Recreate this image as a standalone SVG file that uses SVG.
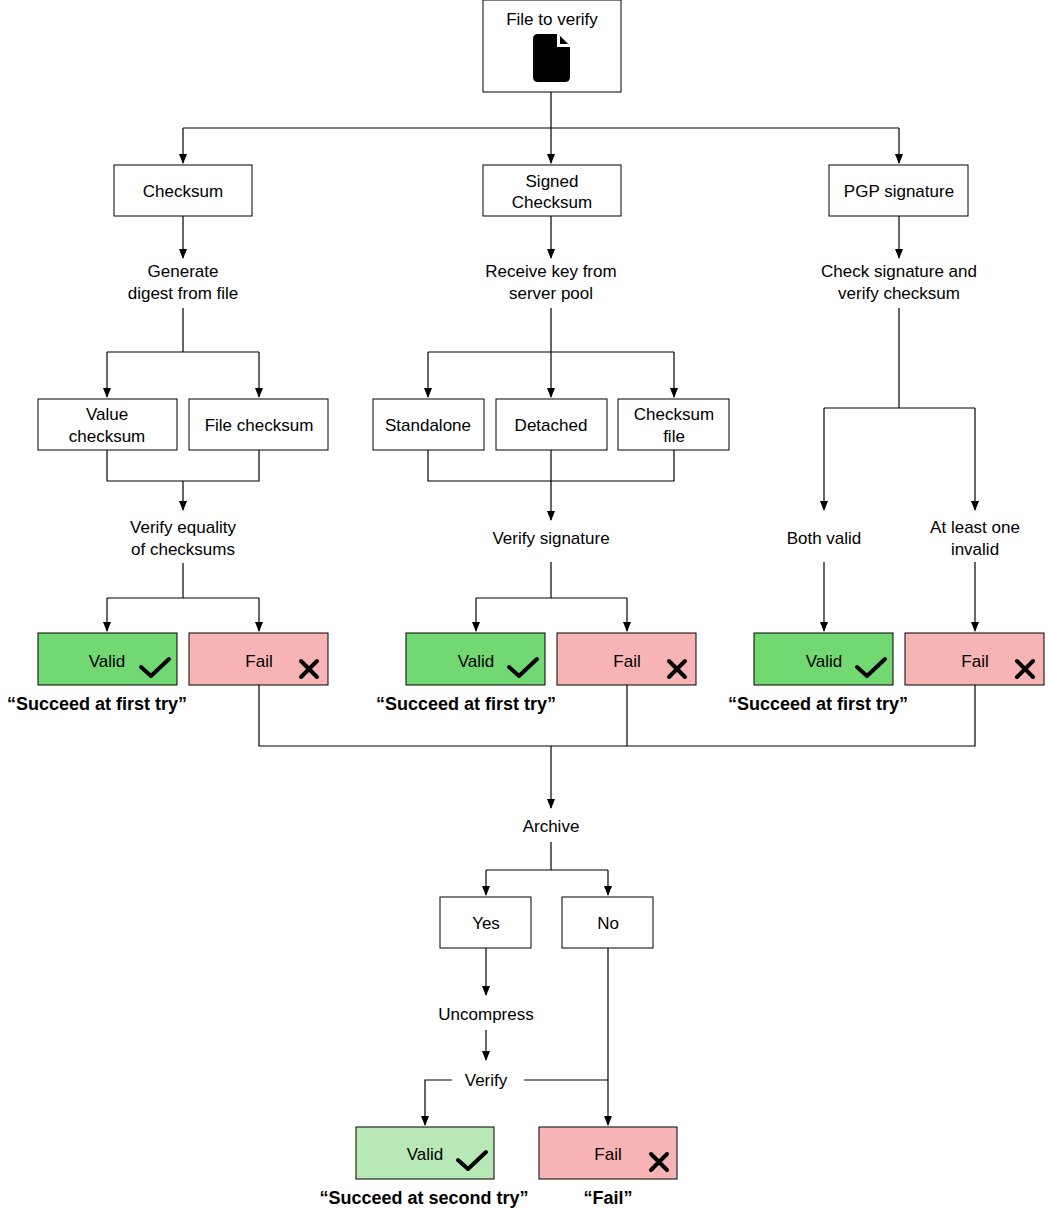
<svg xmlns="http://www.w3.org/2000/svg" xmlns:xlink="http://www.w3.org/1999/xlink" width="1049" height="1208" viewBox="0 0 1049 1208">
<style>
text{font-family:"Liberation Sans",Arial,sans-serif;font-size:17px;fill:#000;text-anchor:middle}
.b{font-weight:bold;font-size:18px}
.box{fill:#fff;stroke:#000;stroke-width:1}
.ok{fill:#72d872;stroke:#000;stroke-width:1}
.ok2{fill:#b8e8b5;stroke:#000;stroke-width:1}
.ko{fill:#f8b4b4;stroke:#000;stroke-width:1}
.c{fill:none;stroke:#000;stroke-width:1.2}
.ic{fill:none;stroke:#000;stroke-width:4;stroke-linecap:round;stroke-linejoin:round}
</style>
<defs>
<marker id="a" markerWidth="10" markerHeight="10" refX="9" refY="5" orient="auto" markerUnits="userSpaceOnUse"><path d="M0,1 L10,5 L0,9 z" fill="#000"/></marker>
<path id="chk" class="ic" d="M0,8 L10,17 L28,0"/>
<path id="x" class="ic" d="M0,0 L16,16 M16,0 L0,16"/>
</defs>
<g id="connectors" class="c">
<path d="M551,92 V128 M183,128 H899"/>
<path d="M183,128 V163" marker-end="url(#a)"/>
<path d="M551,128 V163" marker-end="url(#a)"/>
<path d="M899,128 V163" marker-end="url(#a)"/>
<path d="M183,216 V258" marker-end="url(#a)"/>
<path d="M551,216 V258" marker-end="url(#a)"/>
<path d="M899,216 V258" marker-end="url(#a)"/>
<path d="M183,308 V352 M107,352 H259"/>
<path d="M107,352 V397" marker-end="url(#a)"/>
<path d="M259,352 V397" marker-end="url(#a)"/>
<path d="M107,450 V481 H259 V450 M183,481 V510" marker-end="url(#a)"/>
<path d="M183,563 V598 M107,598 H259"/>
<path d="M107,598 V631" marker-end="url(#a)"/>
<path d="M259,598 V631" marker-end="url(#a)"/>
<path d="M551,308 V352 M428,352 H674"/>
<path d="M428,352 V397" marker-end="url(#a)"/>
<path d="M551,352 V397" marker-end="url(#a)"/>
<path d="M674,352 V397" marker-end="url(#a)"/>
<path d="M428,450 V481 H674 V450 M551,450 V481 M551,481 V520" marker-end="url(#a)"/>
<path d="M551,562 V598 M476,598 H627"/>
<path d="M476,598 V631" marker-end="url(#a)"/>
<path d="M627,598 V631" marker-end="url(#a)"/>
<path d="M899,308 V408 M824,408 H975"/>
<path d="M824,408 V510" marker-end="url(#a)"/>
<path d="M975,408 V510" marker-end="url(#a)"/>
<path d="M824,562 V631" marker-end="url(#a)"/>
<path d="M975,562 V631" marker-end="url(#a)"/>
<path d="M259,685 V746 H975 V685 M627,685 V746"/>
<path d="M551,746 V808" marker-end="url(#a)"/>
<path d="M551,842 V870 M486,870 H608"/>
<path d="M486,870 V895" marker-end="url(#a)"/>
<path d="M608,870 V895" marker-end="url(#a)"/>
<path d="M486,948 V995" marker-end="url(#a)"/>
<path d="M486,1030 V1060" marker-end="url(#a)"/>
<path d="M452,1080 H425 V1125" marker-end="url(#a)"/>
<path d="M524,1080 H608"/>
<path d="M608,948 V1125" marker-end="url(#a)"/>
</g>
<g id="file"><rect class="box" x="483" y="0" width="138" height="92"/><text x="552" y="25">File to verify</text>
<path d="M538,34 H558 L570,46 V77 Q570,82 565,82 H538 Q533,82 533,77 V39 Q533,34 538,34 Z" fill="#000"/><path d="M558,34 V46 H570" fill="#fff" stroke="#fff" stroke-width="2"/><path d="M560,36 V44 H568 Z" fill="#000"/></g>
<g id="checksum"><rect class="box" x="114" y="165" width="138" height="51"/><text x="183" y="197">Checksum</text></g>
<g id="signed"><rect class="box" x="483" y="165" width="138" height="51"/><text x="552" y="187">Signed</text><text x="552" y="208">Checksum</text></g>
<g id="pgp"><rect class="box" x="829" y="165" width="139" height="51"/><text x="899" y="197">PGP signature</text></g>
<g id="gen"><text x="183" y="277">Generate</text><text x="183" y="299">digest from file</text></g>
<g id="recv"><text x="551" y="277">Receive key from</text><text x="551" y="299">server pool</text></g>
<g id="chks"><text x="899" y="277">Check signature and</text><text x="899" y="299">verify checksum</text></g>
<g id="value"><rect class="box" x="38" y="399" width="139" height="51"/><text x="107" y="420">Value</text><text x="107" y="442">checksum</text></g>
<g id="filec"><rect class="box" x="189" y="399" width="139" height="51"/><text x="259" y="431">File checksum</text></g>
<g id="standalone"><rect class="box" x="373" y="399" width="111" height="51"/><text x="428" y="431">Standalone</text></g>
<g id="detached"><rect class="box" x="496" y="399" width="111" height="51"/><text x="551" y="431">Detached</text></g>
<g id="cfile"><rect class="box" x="618" y="399" width="111" height="51"/><text x="674" y="420">Checksum</text><text x="674" y="442">file</text></g>
<g id="veq"><text x="183" y="533">Verify equality</text><text x="183" y="555">of checksums</text></g>
<g id="vsig"><text x="551" y="544">Verify signature</text></g>
<g id="both"><text x="824" y="544">Both valid</text></g>
<g id="least"><text x="975" y="533">At least one</text><text x="975" y="555">invalid</text></g>
<g id="valid1"><rect class="ok" x="38" y="633" width="139" height="52"/><text x="107" y="667">Valid</text><use xlink:href="#chk" x="141" y="659"/><text class="b" x="97" y="710">“Succeed at first try”</text></g>
<g id="fail1"><rect class="ko" x="189" y="633" width="139" height="52"/><text x="259" y="667">Fail</text><use xlink:href="#x" x="301" y="661"/></g>
<g id="valid2"><rect class="ok" x="406" y="633" width="139" height="52"/><text x="476" y="667">Valid</text><use xlink:href="#chk" x="509" y="659"/><text class="b" x="466" y="710">“Succeed at first try”</text></g>
<g id="fail2"><rect class="ko" x="557" y="633" width="139" height="52"/><text x="627" y="667">Fail</text><use xlink:href="#x" x="669" y="661"/></g>
<g id="valid3"><rect class="ok" x="754" y="633" width="139" height="52"/><text x="824" y="667">Valid</text><use xlink:href="#chk" x="857" y="659"/><text class="b" x="818" y="710">“Succeed at first try”</text></g>
<g id="fail3"><rect class="ko" x="905" y="633" width="139" height="52"/><text x="975" y="667">Fail</text><use xlink:href="#x" x="1017" y="661"/></g>
<g id="archive"><text x="551" y="832">Archive</text></g>
<g id="yes"><rect class="box" x="440" y="897" width="91" height="51"/><text x="486" y="929">Yes</text></g>
<g id="no"><rect class="box" x="562" y="897" width="91" height="51"/><text x="608" y="929">No</text></g>
<g id="uncompress"><text x="486" y="1020">Uncompress</text></g>
<g id="verify"><text x="486" y="1086">Verify</text></g>
<g id="valid4"><rect class="ok2" x="356" y="1127" width="138" height="52"/><text x="425" y="1160">Valid</text><use xlink:href="#chk" x="458" y="1152"/><text class="b" x="424" y="1204">“Succeed at second try”</text></g>
<g id="fail4"><rect class="ko" x="539" y="1127" width="138" height="52"/><text x="608" y="1160">Fail</text><use xlink:href="#x" x="651" y="1154"/><text class="b" x="608" y="1204">“Fail”</text></g>
</svg>
